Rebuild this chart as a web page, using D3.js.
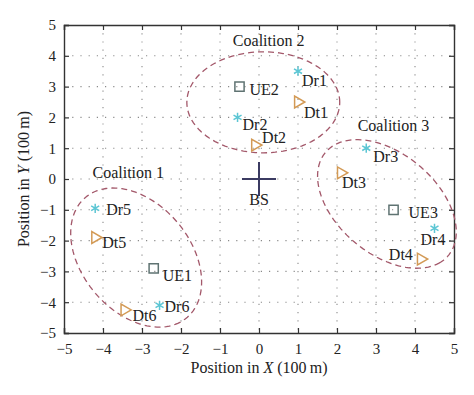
<!DOCTYPE html>
<html>
<head>
<meta charset="utf-8">
<script src="https://cdn.jsdelivr.net/npm/d3@7"></script>
<style>
  body { margin: 0; background: #fff; }
  text { font-family: "Liberation Serif", "DejaVu Serif", serif; fill: #222; }
</style>
</head>
<body>
<div id="chart"></div>
<script>
// nodes: name, type, x, y (100 m)
const nodeNames = ["UE1", "UE2", "UE3", "Dr1", "Dr2", "Dr3", "Dr4", "Dr5", "Dr6",
                   "Dt1", "Dt2", "Dt3", "Dt4", "Dt5", "Dt6"];
const nodeTypes = ["ue", "ue", "ue", "dr", "dr", "dr", "dr", "dr", "dr",
                   "dt", "dt", "dt", "dt", "dt", "dt"];
const nodeX = [-2.7, -0.5, 3.45, 1.0, -0.55, 2.75, 4.5, -4.2, -2.55,
               1.0, -0.1, 2.1, 4.15, -4.2, -3.45];
const nodeY = [-2.9, 3.0, -1.0, 3.5, 2.0, 1.0, -1.6, -0.95, -4.1,
               2.5, 1.1, 0.2, -2.6, -1.9, -4.25];

const bsName = "BS";
const bsPos = [0, 0];

// coalitions: ellipse centre, semi axes, rotation (data space)
const coalitionNames = ["Coalition 1", "Coalition 2", "Coalition 3"];
const coalitionCX = [-3.15, 0.11, 3.28];
const coalitionCY = [-2.55, 2.49, -0.81];
const coalitionRX = [2.39, 1.96, 2.34];
const coalitionRY = [1.485, 1.64, 1.43];
const coalitionAngle = [-65.3, 0, -55.2];
const coalitionLabelX = [-4.27, -0.67, 2.53];
const coalitionLabelY = [0.03, 4.32, 1.56];

const xTicks = [-5, -4, -3, -2, -1, 0, 1, 2, 3, 4, 5];
const yTicks = [-5, -4, -3, -2, -1, 0, 1, 2, 3, 4, 5];

// label placement relative to marker (px)
const labelOffset = {
  UE1: [9, 13, "start"], UE2: [10, 8, "start"], UE3: [15, 8, "start"],
  Dr1: [4, 15, "start"], Dr2: [5, 13, "start"], Dr3: [7, 14, "start"],
  Dr4: [-14, 17, "start"], Dr5: [11, 7, "start"], Dr6: [5, 7, "start"],
  Dt1: [6, 16, "start"], Dt2: [7, -2, "start"], Dt3: [1, 15, "start"],
  Dt4: [-8, 1, "end"], Dt5: [7, 10, "start"], Dt6: [8, 11, "start"]
};

const W = 474, H = 395;
const margin = { top: 25, right: 20, bottom: 62, left: 64 };
const width = W - margin.left - margin.right;
const height = H - margin.top - margin.bottom;

const svg = d3.select("#chart").append("svg")
  .attr("width", W).attr("height", H);

const g = svg.append("g")
  .attr("transform", `translate(${margin.left},${margin.top})`);

const x = d3.scaleLinear().domain([-5, 5]).range([0, width]);
const y = d3.scaleLinear().domain([-5, 5]).range([height, 0]);

// grid
g.append("g").selectAll("line")
  .data(xTicks.slice(1, -1)).enter().append("line")
  .attr("x1", d => x(d)).attr("x2", d => x(d))
  .attr("y1", 0).attr("y2", height)
  .attr("stroke", "#8a8a8a").attr("stroke-width", 1.1)
  .attr("stroke-dasharray", "1.2,7");
g.append("g").selectAll("line")
  .data(yTicks.slice(1, -1)).enter().append("line")
  .attr("y1", d => y(d)).attr("y2", d => y(d))
  .attr("x1", 0).attr("x2", width)
  .attr("stroke", "#8a8a8a").attr("stroke-width", 1.1)
  .attr("stroke-dasharray", "1.2,7");

// axes (ticks inside)
const fmt = d => d < 0 ? "\u2212" + Math.abs(d) : "" + d;
g.append("g").attr("transform", `translate(0,${height})`)
  .call(d3.axisBottom(x).tickValues(xTicks).tickSize(-5).tickPadding(10).tickFormat(fmt));
g.append("g")
  .call(d3.axisLeft(y).tickValues(yTicks).tickSize(-5).tickPadding(8).tickFormat(fmt));
g.append("g")
  .call(d3.axisTop(x).tickValues(xTicks).tickSize(-5).tickFormat(""));
g.append("g").attr("transform", `translate(${width},0)`)
  .call(d3.axisRight(y).tickValues(yTicks).tickSize(-5).tickFormat(""));

g.selectAll(".domain").attr("stroke", "#333").attr("stroke-width", 1.4);
g.selectAll(".tick line").attr("stroke", "#333").attr("stroke-width", 1.2);
g.selectAll(".tick text")
  .style("font-family", "'Liberation Serif', serif")
  .style("font-size", "15px").attr("fill", "#222");

// axis titles
const xt = svg.append("text")
  .attr("x", margin.left + width / 2).attr("y", 373)
  .attr("text-anchor", "middle").style("font-size", "16px");
xt.append("tspan").text("Position in ");
xt.append("tspan").attr("font-style", "italic").text("X");
xt.append("tspan").text(" (100\u2009m)");

const yt = svg.append("text")
  .attr("transform", `translate(29,${margin.top + height / 2}) rotate(-90)`)
  .attr("text-anchor", "middle").style("font-size", "16px");
yt.append("tspan").text("Position in ");
yt.append("tspan").attr("font-style", "italic").text("Y");
yt.append("tspan").text(" (100\u2009m)");

// coalition ellipses
const ellLine = d3.line().x(p => x(p[0])).y(p => y(p[1]));
coalitionNames.forEach((name, i) => {
  const a = coalitionAngle[i] * Math.PI / 180;
  const pts = d3.range(0, 361, 3).map(t => {
    const r = t * Math.PI / 180;
    const ex = coalitionRX[i] * Math.cos(r), ey = coalitionRY[i] * Math.sin(r);
    return [coalitionCX[i] + ex * Math.cos(a) - ey * Math.sin(a),
            coalitionCY[i] + ex * Math.sin(a) + ey * Math.cos(a)];
  });
  g.append("path")
    .attr("d", ellLine(pts))
    .attr("fill", "none")
    .attr("stroke", "#a3586a")
    .attr("stroke-width", 1.3)
    .attr("stroke-dasharray", "6,4");
  g.append("text")
    .attr("x", x(coalitionLabelX[i])).attr("y", y(coalitionLabelY[i]))
    .style("font-size", "16px").text(name);
});

// markers
const sym = {
  ue: { type: d3.symbolSquare, size: 85, color: "#5f7372", rot: 0 },
  dr: { type: d3.symbolAsterisk, size: 60, color: "#5cc6d4", rot: 0 },
  dt: { type: d3.symbolTriangle, size: 60, color: "#d39a55", rot: 90 }
};

nodeNames.forEach((name, i) => {
  const s = sym[nodeTypes[i]];
  const px = x(nodeX[i]), py = y(nodeY[i]);
  g.append("path")
    .attr("d", d3.symbol().type(s.type).size(s.size)())
    .attr("transform", `translate(${px},${py}) rotate(${s.rot})`)
    .attr("fill", "none")
    .attr("stroke", s.color)
    .attr("stroke-width", 1.5);
  const o = labelOffset[name];
  g.append("text")
    .attr("x", px + o[0]).attr("y", py + o[1])
    .attr("text-anchor", o[2])
    .style("font-size", "16px").text(name);
});

// base station
g.append("path")
  .attr("d", d3.symbol().type(d3.symbolPlus).size(380)())
  .attr("transform", `translate(${x(bsPos[0])},${y(bsPos[1])})`)
  .attr("fill", "none").attr("stroke", "#3b3b62").attr("stroke-width", 2);
g.append("text")
  .attr("x", x(bsPos[0])).attr("y", y(bsPos[1]) + 26)
  .attr("text-anchor", "middle")
  .style("font-size", "16px").text(bsName);
</script>
</body>
</html>
